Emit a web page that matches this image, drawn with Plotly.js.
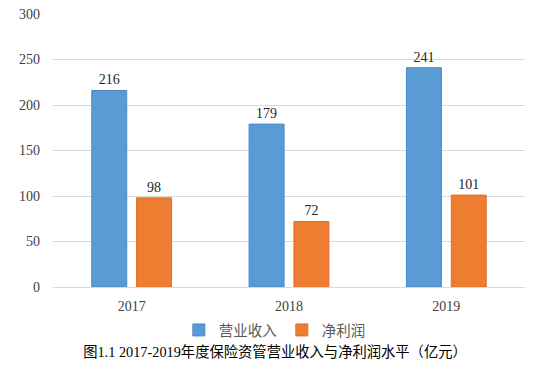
<!DOCTYPE html>
<html>
<head>
<meta charset="utf-8">
<script src="https://cdn.plot.ly/plotly-3.0.1.min.js"></script>
<style>html,body{margin:0;padding:0;background:#fff;}#chart{width:554px;height:371px;}</style>
</head>
<body>
<div id="chart"></div>
<script>
var years = ['2017', '2018', '2019'];
var revenue = [216, 179, 241];
var profit = [98, 72, 101];
var seriesNames = ['营业收入', '净利润'];
var titleText = '图1.1 2017-2019年度保险资管营业收入与净利润水平（亿元）';
var yTicks = [0, 50, 100, 150, 200, 250, 300];

var serif = '"Liberation Serif", "Noto Sans CJK SC", serif';
var traces = [
  {type: 'bar', x: years, y: revenue, name: seriesNames[0],
   marker: {color: '#5b9bd5', line: {color: '#4a89c8', width: 1}},
   text: revenue.map(String), textposition: 'outside', cliponaxis: false,
   textfont: {family: serif, size: 14, color: '#262626'}},
  {type: 'bar', x: years, y: profit, name: seriesNames[1],
   marker: {color: '#ed7d31', line: {color: '#e0702a', width: 1}},
   text: profit.map(String), textposition: 'outside', cliponaxis: false,
   textfont: {family: serif, size: 14, color: '#262626'}}
];
var layout = {
  width: 554, height: 371,
  margin: {l: 53, r: 29, t: 14, b: 84},
  paper_bgcolor: '#ffffff', plot_bgcolor: '#ffffff',
  bargap: 0.43, bargroupgap: 0.22,
  font: {family: serif, size: 14, color: '#595959'},
  xaxis: {type: 'category', showgrid: false, showline: true, linecolor: '#d9d9d9', linewidth: 1,
          ticks: '', tickfont: {family: serif, size: 14, color: '#404040'}, ticklabelstandoff: 6, fixedrange: true},
  yaxis: {range: [0, 300], tickvals: yTicks, ticktext: yTicks.map(String), showgrid: true, gridcolor: '#d9d9d9',
          zeroline: false, showline: false, ticks: '', ticklabelstandoff: 12,
          tickfont: {family: serif, size: 14, color: '#404040'}, fixedrange: true},
  showlegend: true,
  legend: {orientation: 'h', x: 0.47, xanchor: 'center', y: -0.1575, yanchor: 'middle',
           bgcolor: 'rgba(0,0,0,0)',
           font: {family: '"Noto Sans CJK SC", sans-serif', size: 14.5, color: '#595959'},
           itemwidth: 30, tracegroupgap: 0},
  title: {text: titleText, xref: 'container', x: 0.4964, xanchor: 'center', yref: 'container', y: 0.0512, yanchor: 'middle',
          font: {family: serif, size: 14.3, color: '#000000'}}
};
Plotly.newPlot('chart', traces, layout, {displayModeBar: false, staticPlot: true});
</script>
</body>
</html>
